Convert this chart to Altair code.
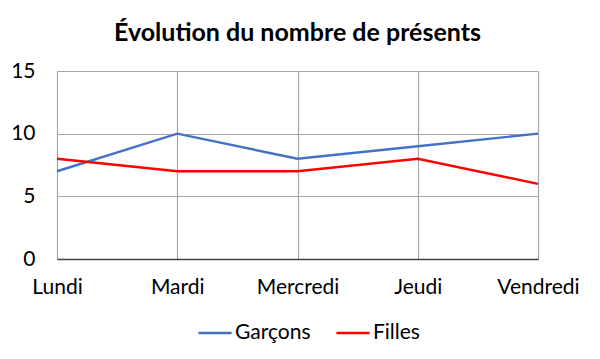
import altair as alt
import pandas as pd

jours = ["Lundi", "Mardi", "Mercredi", "Jeudi", "Vendredi"]
garcons = [7, 10, 8, 9, 10]
filles = [8, 7, 7, 8, 6]
series = ["Garçons", "Filles"]
couleurs = ["#4472C4", "#FF0000"]

rows = []
for j, g, f in zip(jours, garcons, filles):
    rows.append({"jour": j, "serie": "Garçons", "valeur": g})
    rows.append({"jour": j, "serie": "Filles", "valeur": f})
df = pd.DataFrame(rows)

FONT = "Lato"

chart = alt.Chart(df).mark_line(strokeWidth=2.4).encode(
    x=alt.X("jour:N", sort=jours, title=None,
            scale=alt.Scale(type="point", padding=0),
            axis=alt.Axis(labelAngle=0, labelFontSize=21, labelColor="#000000",
                          labelPadding=17, ticks=False, grid=True,
                          gridColor="#A6A6A6", gridWidth=1.2,
                          domainColor="#404040", domainWidth=1.5,
                          labelFont=FONT)),
    y=alt.Y("valeur:Q", title=None,
            scale=alt.Scale(domain=[0, 15], nice=False),
            axis=alt.Axis(values=[0, 5, 10, 15], labelFontSize=21, labelColor="#000000",
                          labelPadding=22, ticks=False, domain=False, grid=True,
                          gridColor="#A6A6A6", gridWidth=1.2, labelFont=FONT)),
    color=alt.Color("serie:N", title=None,
                    scale=alt.Scale(domain=series, range=couleurs),
                    sort=series,
                    legend=alt.Legend(orient="none", direction="horizontal",
                                      legendX=140, legendY=244,
                                      symbolType="stroke", symbolStrokeWidth=2.4,
                                      symbolSize=1100, labelFontSize=21,
                                      labelColor="#000000", labelFont=FONT,
                                      columnPadding=20, labelOffset=2)),
).properties(
    width=481, height=188,
    title=alt.TitleParams("Évolution du nombre de présents", fontSize=25,
                          font=FONT, fontWeight="bold", color="#000000",
                          anchor="middle", offset=14),
    padding={"left": 57, "top": 71, "right": 62, "bottom": 100},
    autosize=alt.AutoSizeParams(type="none"),
).configure_view(stroke=None)

chart.save("out.html", embed_options={"renderer": "svg", "actions": False})
